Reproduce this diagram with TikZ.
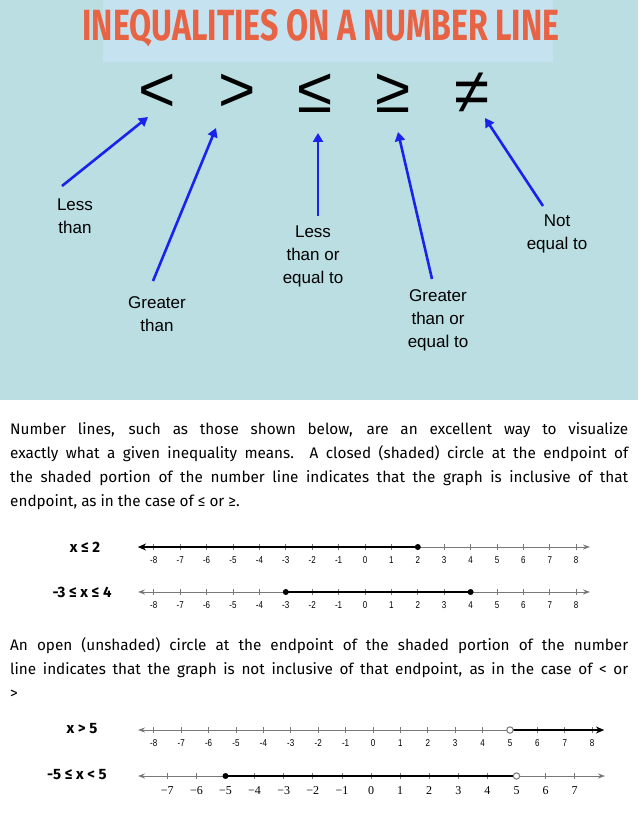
\documentclass[tikz,border=0pt]{standalone}
\usepackage{fontspec}
\setmainfont{Fira Sans}
\newfontfamily\arialf{Liberation Sans}
\newfontfamily\timesf{Liberation Serif}
\usetikzlibrary{arrows.meta}
\definecolor{panelbg}{RGB}{186,222,226}
\definecolor{bandbg}{RGB}{196,226,240}
\definecolor{titlecol}{RGB}{232,98,68}
\definecolor{arrblue}{RGB}{25,35,235}
\definecolor{nlgray}{RGB}{120,120,120}
\tikzset{
  x=1pt,y=-1pt,
  sym/.style={font=\arialf\fontsize{64}{64}\selectfont, inner sep=0pt},
  lbl/.style={font=\arialf\fontsize{17}{23}\selectfont, align=center, inner sep=0pt},
  barrow/.style={draw=arrblue, line width=2.6pt, -{Triangle[length=9pt,width=10pt]}},
  ineq/.style={font=\bfseries\fontsize{15}{15}\selectfont, inner sep=0pt},
  axis/.style={draw=nlgray, line width=0.9pt, {Stealth[length=7pt,width=5pt]}-{Stealth[length=7pt,width=5pt]}},
  shade/.style={draw=black, line width=2.6pt},
  shadearr/.style={draw=black, line width=2.6pt, -{Stealth[length=8pt,width=7pt]}},
  num/.style={font=\arialf\fontsize{10}{10}\selectfont, inner sep=0pt, xscale=0.8},
  numserif/.style={font=\timesf\fontsize{12}{12}\selectfont, inner sep=0pt},
  para/.style={anchor=north west, inner sep=0pt, align=left, font=\fontsize{15.3}{24}\selectfont},
}
\begin{document}
\begin{tikzpicture}
\useasboundingbox (0,0) rectangle (638,826);
\fill[white] (0,0) rectangle (638,826);
\fill[panelbg] (0,0) rectangle (638,400);
\fill[bandbg] (103,0) rectangle (553,62);
\node[inner sep=0pt, anchor=base, text=titlecol] (title) at (321,41)
  {\resizebox{477pt}{31pt}{\bfseries INEQUALITIES ON A NUMBER LINE}};
% symbols
\node[sym] (lt) at (157,93) {<};
\node[sym] (gt) at (237,93) {>};
\node[sym] (le) at (315,93) {≤};
\node[sym] (ge) at (393,93) {≥};
\node[sym] (ne) at (472,93) {≠};
% labels
\node[lbl] (llt) at (75,216) {Less\\than};
\node[lbl] (lgt) at (157,314) {Greater\\than};
\node[lbl] (lle) at (313,256) {Less\\than or\\equal to};
\node[lbl] (lge) at (438,320) {Greater\\than or\\equal to};
\node[lbl] (lne) at (557,234) {Not\\equal to};
\coordinate (a1s) at (62,186); \coordinate (a1e) at (148,117);
\coordinate (a2s) at (153,281); \coordinate (a2e) at (216,128);
\coordinate (a3s) at (318,216); \coordinate (a3e) at (318,133);
\coordinate (a4s) at (432,279); \coordinate (a4e) at (398,132);
\coordinate (a5s) at (543,206); \coordinate (a5e) at (485,118);
\draw[barrow] (a1s) -- (a1e);
\draw[barrow] (a2s) -- (a2e);
\draw[barrow] (a3s) -- (a3e);
\draw[barrow] (a4s) -- (a4e);
\draw[barrow] (a5s) -- (a5e);
% paragraph 1
\node[para] (p1) at (10,422) {%
\makebox[618pt][s]{Number lines, such as those shown below, are an excellent way to visualize}\\
\makebox[618pt][s]{exactly what a given inequality means. A closed (shaded) circle at the endpoint of}\\
\makebox[618pt][s]{the shaded portion of the number line indicates that the graph is inclusive of that}\\
endpoint, as in the case of ≤ or ≥.};
% number line 1: x <= 2
\node[ineq] (i1) at (85,547) {x ≤ 2};
\coordinate (n1l) at (138,547); \coordinate (n1r) at (590,547);
\draw[axis] (n1l) -- (n1r);
\foreach \k in {-8,...,8} {
  \draw[nlgray, line width=0.8pt] (365+26.4*\k,544) -- (365+26.4*\k,550);
  \node[num] at (365+26.4*\k,560) {\k};
}
\coordinate (c1) at (365+2*26.4,547);
\draw[black, line width=2.6pt, {Stealth[length=8pt,width=7pt]}-] (n1l) -- (c1);
\fill (c1) circle (3pt);
% number line 2: -3 <= x <= 4
\node[ineq] (i2) at (82,592) {-3 ≤ x ≤ 4};
\coordinate (n2l) at (138,592); \coordinate (n2r) at (590,592);
\draw[axis] (n2l) -- (n2r);
\foreach \k in {-8,...,8} {
  \draw[nlgray, line width=0.8pt] (365+26.4*\k,589) -- (365+26.4*\k,595);
  \node[num] at (365+26.4*\k,605) {\k};
}
\coordinate (c2a) at (365-3*26.4,592); \coordinate (c2b) at (365+4*26.4,592);
\draw[shade] (c2a) -- (c2b);
\fill (c2a) circle (3pt); \fill (c2b) circle (3pt);
% paragraph 2
\node[para] (p2) at (10,637) {%
\makebox[618pt][s]{An open (unshaded) circle at the endpoint of the shaded portion of the number}\\
\makebox[618pt][s]{line indicates that the graph is not inclusive of that endpoint, as in the case of < or}\\
>};
% number line 3: x > 5
\node[ineq] (i3) at (82,729) {x > 5};
\coordinate (n3l) at (138,730); \coordinate (n3r) at (604,730);
\draw[axis] (n3l) -- (n3r);
\foreach \k in {-8,...,8} {
  \draw[nlgray, line width=0.8pt] (373+27.4*\k,727) -- (373+27.4*\k,733);
  \node[num] at (373+27.4*\k,743) {\k};
}
\coordinate (c3) at (373+5*27.4,730);
\draw[shadearr] (c3) -- (n3r);
\draw[nlgray, line width=1pt, fill=white] (c3) circle (3.2pt);
% number line 4: -5 <= x < 5
\node[ineq] (i4) at (77,775) {-5 ≤ x < 5};
\coordinate (n4l) at (138,776); \coordinate (n4r) at (605,776);
\draw[axis] (n4l) -- (n4r);
\foreach \k in {-7,...,7} {
  \draw[nlgray, line width=0.8pt] (371+29.1*\k,773) -- (371+29.1*\k,779);
}
\foreach \k/\t in {-7/−7,-6/−6,-5/−5,-4/−4,-3/−3,-2/−2,-1/−1,0/0,1/1,2/2,3/3,4/4,5/5,6/6,7/7} {
  \node[numserif] at (371+29.1*\k,791) {\t};
}
\coordinate (c4a) at (371-5*29.1,776); \coordinate (c4b) at (371+5*29.1,776);
\draw[shade] (c4a) -- (c4b);
\fill (c4a) circle (3pt);
\draw[nlgray, line width=1pt, fill=white] (c4b) circle (3.2pt);
\end{tikzpicture}
\end{document}
